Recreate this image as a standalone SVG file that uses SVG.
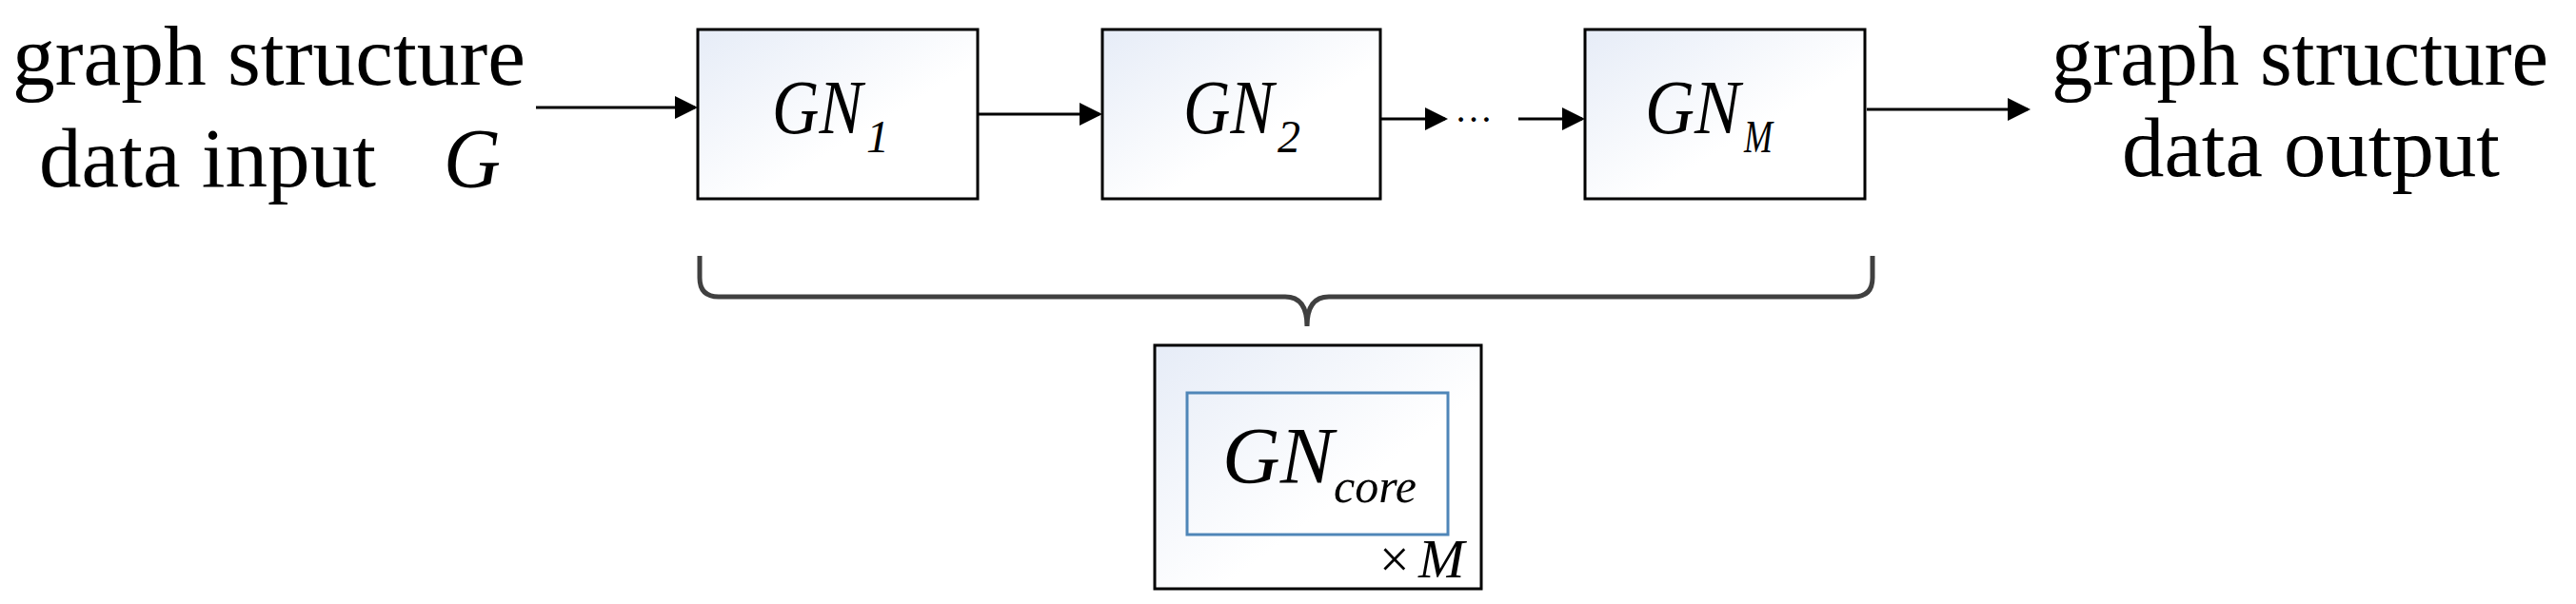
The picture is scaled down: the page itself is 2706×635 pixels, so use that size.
<svg xmlns="http://www.w3.org/2000/svg" width="2706" height="635" viewBox="0 0 2706 635">
<style>
.t{font-family:"Liberation Serif","Times New Roman","DejaVu Serif",serif;fill:#000}
.i{font-style:italic}
.box{stroke:#000;stroke-width:3;fill:url(#g)}
.ar{stroke:#000;stroke-width:3;fill:none;marker-end:url(#a)}
</style>
<defs>
<linearGradient id="g" x1="0" y1="0" x2="1" y2="1">
<stop offset="0" stop-color="#e6ecf7"/><stop offset="0.6" stop-color="#ffffff"/>
</linearGradient>
<marker id="a" markerWidth="8" markerHeight="8" refX="7" refY="4" orient="auto" markerUnits="strokeWidth">
<path d="M0,0 L8,4 L0,8 z" fill="#000"/>
</marker>
</defs>
<g id="input">
<text class="t" x="13" y="89" font-size="88" textLength="539" lengthAdjust="spacingAndGlyphs">graph structure</text>
<text class="t" x="41" y="196" font-size="88" textLength="354" lengthAdjust="spacingAndGlyphs">data input</text>
<text class="t i" x="466" y="196" font-size="88" textLength="60" lengthAdjust="spacingAndGlyphs">G</text>
</g>
<g id="output">
<text class="t" x="2155" y="89" font-size="88" textLength="522" lengthAdjust="spacingAndGlyphs">graph structure</text>
<text class="t" x="2229" y="185" font-size="88" textLength="397" lengthAdjust="spacingAndGlyphs">data output</text>
</g>
<g id="gn1">
<rect class="box" x="733" y="31" width="294" height="178"/>
<text class="t i" x="811" y="140" font-size="80" textLength="95" lengthAdjust="spacingAndGlyphs">GN</text>
<text class="t i" x="910" y="160" font-size="48">1</text>
</g>
<g id="gn2">
<rect class="box" x="1158" y="31" width="292" height="178"/>
<text class="t i" x="1243" y="140" font-size="80" textLength="95" lengthAdjust="spacingAndGlyphs">GN</text>
<text class="t i" x="1342" y="160" font-size="48">2</text>
</g>
<g id="dots"><text class="t" x="1528" y="128" font-size="40">…</text></g>
<g id="gnm">
<rect class="box" x="1665" y="31" width="294" height="178"/>
<text class="t i" x="1728" y="140" font-size="80" textLength="100" lengthAdjust="spacingAndGlyphs">GN</text>
<text class="t i" x="1832" y="160" font-size="48" textLength="30" lengthAdjust="spacingAndGlyphs">M</text>
</g>
<g id="core">
<rect class="box" x="1213" y="363" width="343" height="256"/>
<rect x="1247" y="413" width="274" height="149" fill="none" stroke="#4f86b8" stroke-width="3"/>
<text class="t i" x="1284" y="508" font-size="84">GN</text>
<text class="t i" x="1401" y="528" font-size="50">core</text>
<text class="t" x="1449" y="607" font-size="56">×</text>
<text class="t i" x="1490" y="607" font-size="58">M</text>
</g>
<g id="connectors">
<line class="ar" x1="563" y1="113" x2="730" y2="113"/>
<line class="ar" x1="1027" y1="120" x2="1155" y2="120"/>
<line class="ar" x1="1450" y1="125" x2="1518" y2="125"/>
<line class="ar" x1="1595" y1="125" x2="1662" y2="125"/>
<line class="ar" x1="1961" y1="115" x2="2130" y2="115"/>
<path d="M735,269 V292 Q735,312 755,312 H1350 Q1373,312 1373,343 Q1373,312 1396,312 H1947 Q1967,312 1967,292 V269" fill="none" stroke="#404040" stroke-width="5"/>
</g>
</svg>
